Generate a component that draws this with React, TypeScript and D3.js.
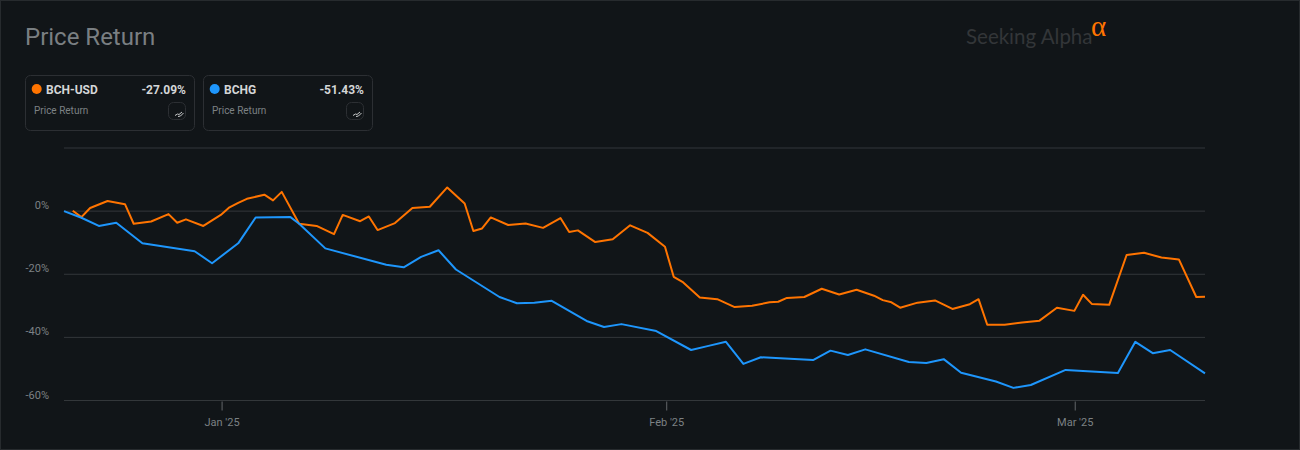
import React from 'react';
import * as d3 from 'd3';

// x is a session index: the axis is compressed to trading sessions, not calendar days
const bchIndex = [1, 2, 3, 5, 7, 8, 10, 12, 13, 14, 16, 18, 19, 20, 21, 23, 24, 25, 27, 29, 31, 32, 34, 35, 36, 38, 40, 42, 44, 46, 47, 48, 49, 51, 53, 55, 57, 58, 59, 61, 63, 65, 67, 69, 70, 71, 73, 75, 77, 79, 81, 82, 83, 85, 87, 89, 91, 93, 94, 95, 96, 98, 100, 102, 104, 105, 106, 108, 110, 112, 114, 116, 117, 118, 120, 122, 124, 126, 128, 130, 131];
const bchValues = [0.1, -1.9, 1.0, 3.2, 2.2, -4.0, -3.3, -0.95, -3.7, -2.6, -4.7, -1.2, 1.2, 2.6, 3.9, 5.2, 3.4, 6.1, -4.0, -4.7, -7.3, -1.2, -3.2, -1.7, -6.0, -3.8, 1.0, 1.4, 7.5, 2.4, -6.3, -5.5, -2.0, -4.4, -3.9, -5.3, -2.2, -6.6, -6.1, -9.8, -8.9, -4.5, -6.9, -11.3, -20.8, -22.4, -27.4, -27.9, -30.4, -30.0, -28.9, -28.7, -27.5, -27.2, -24.6, -26.4, -24.9, -26.8, -28.2, -28.9, -30.6, -29.0, -28.3, -31.0, -29.5, -27.9, -36.0, -36.0, -35.3, -34.7, -30.6, -31.6, -26.5, -29.4, -29.7, -13.9, -13.2, -14.7, -15.3, -27.2, -27.09];

const bchgIndex = [0, 2, 4, 6, 9, 15, 17, 20, 22, 26, 27, 30, 37, 39, 41, 43, 45, 50, 52, 54, 56, 60, 62, 64, 68, 72, 74, 76, 78, 80, 86, 88, 90, 92, 97, 99, 101, 103, 107, 109, 111, 115, 119, 121, 123, 125, 127, 131];
const bchgValues = [0, -2.1, -4.7, -3.7, -10.2, -12.7, -16.5, -10.2, -2.0, -1.9, -4.0, -11.8, -17.0, -17.8, -14.5, -12.4, -18.5, -27.2, -29.2, -29.0, -28.4, -34.8, -36.7, -35.8, -38.0, -44.0, -42.7, -41.4, -48.4, -46.3, -47.2, -44.2, -45.6, -43.8, -47.8, -48.1, -46.9, -51.2, -54.0, -56.0, -55.1, -50.3, -51.0, -51.3, -41.4, -45.0, -44.0, -51.43];

const yTicks = [20, 0, -20, -40, -60];
const xTickIndex = [18.15, 69.2, 116.1];
const xTickLabels = ["Jan '25", "Feb '25", "Mar '25"];

const legendNames = ['BCH-USD', 'BCHG'];
const legendReturns = ['-27.09%', '-51.43%'];
const legendColors = ['#ff7400', '#1e96fc'];

const font = 'Roboto, sans-serif';

const x = d3.scaleLinear().domain([0, 131]).range([64, 1205]);
const y = d3.scaleLinear().domain([20, -60]).range([148, 400.5]);

const line = d3.line<[number, number]>()
    .x(d => x(d[0]))
    .y(d => y(d[1]));

const zip = (a: number[], b: number[]) => a.map((v, i) => [v, b[i]] as [number, number]);

const LegendCard: React.FC<{ index: number }> = ({ index }) => {
    const left = 25.5 + index * 178;
    return (
        <g transform={`translate(${left},75.5)`} fontFamily={font}>
            <rect width={169} height={55} rx={5} fill="none" stroke="#2c2f33" />
            <circle cx={11.2} cy={13.5} r={5} fill={legendColors[index]} />
            <text x={20.5} y={18} fontSize={12} fontWeight={700} fill="#d4d6d7">{legendNames[index]}</text>
            <text x={160.5} y={18} fontSize={12} fontWeight={700} fill="#d4d6d7" textAnchor="end">{legendReturns[index]}</text>
            <text x={8.5} y={38.5} fontSize={10} fill="#7c8184">Price Return</text>
            <rect x={143} y={27} width={17} height={17} rx={5} fill="none" stroke="#2c2f33" />
            <path d="M149.5 40 L152 38.5 L153.5 39 L156.5 36.5 M152.5 41 L155 40.5 L158 37.5" fill="none" stroke="#c9cbcc" strokeWidth={1} />
        </g>
    );
};

const App: React.FC = () => {
    return (
        <svg width={1300} height={450} style={{ position: 'absolute', left: 0, top: 0, display: 'block' }}>
            <rect width={1300} height={450} fill="#111518" />
            <rect x={0.5} y={0.5} width={1299} height={449} fill="none" stroke="#272b2e" />

            <text x={25} y={45} fontFamily={font} fontSize={24} fill="#7a7f82">Price Return</text>

            <text x={966} y={44} fontFamily="Lato, sans-serif" fontWeight={400} fontSize={20.5} fill="#333638">Seeking Alpha</text>
            <text x={1091} y={36} fontFamily="'Liberation Serif', serif" fontSize={29} fill="#ff7400">α</text>

            {legendNames.map((_, i) => <LegendCard key={i} index={i} />)}

            {yTicks.map(t => (
                <g key={t}>
                    <line x1={x(0)} x2={x(131)} y1={y(t)} y2={y(t)} stroke="#33373a" />
                    {t !== 20 && (
                        <text x={49} y={y(t) - 2} textAnchor="end" fontFamily={font} fontSize={11} fill="#7c8184">{`${t}%`}</text>
                    )}
                </g>
            ))}

            {xTickIndex.map((t, i) => (
                <g key={t}>
                    <line x1={x(t)} x2={x(t)} y1={y(-60) + 1} y2={y(-60) + 10} stroke="#63676a" />
                    <text x={x(t)} y={426} textAnchor="middle" fontFamily={font} fontSize={11} fill="#7c8184">{xTickLabels[i]}</text>
                </g>
            ))}

            <path d={line(zip(bchIndex, bchValues)) ?? ''} fill="none" stroke={legendColors[0]} strokeWidth={2} strokeLinejoin="round" />
            <path d={line(zip(bchgIndex, bchgValues)) ?? ''} fill="none" stroke={legendColors[1]} strokeWidth={2} strokeLinejoin="round" />
        </svg>
    );
};

export default App;
